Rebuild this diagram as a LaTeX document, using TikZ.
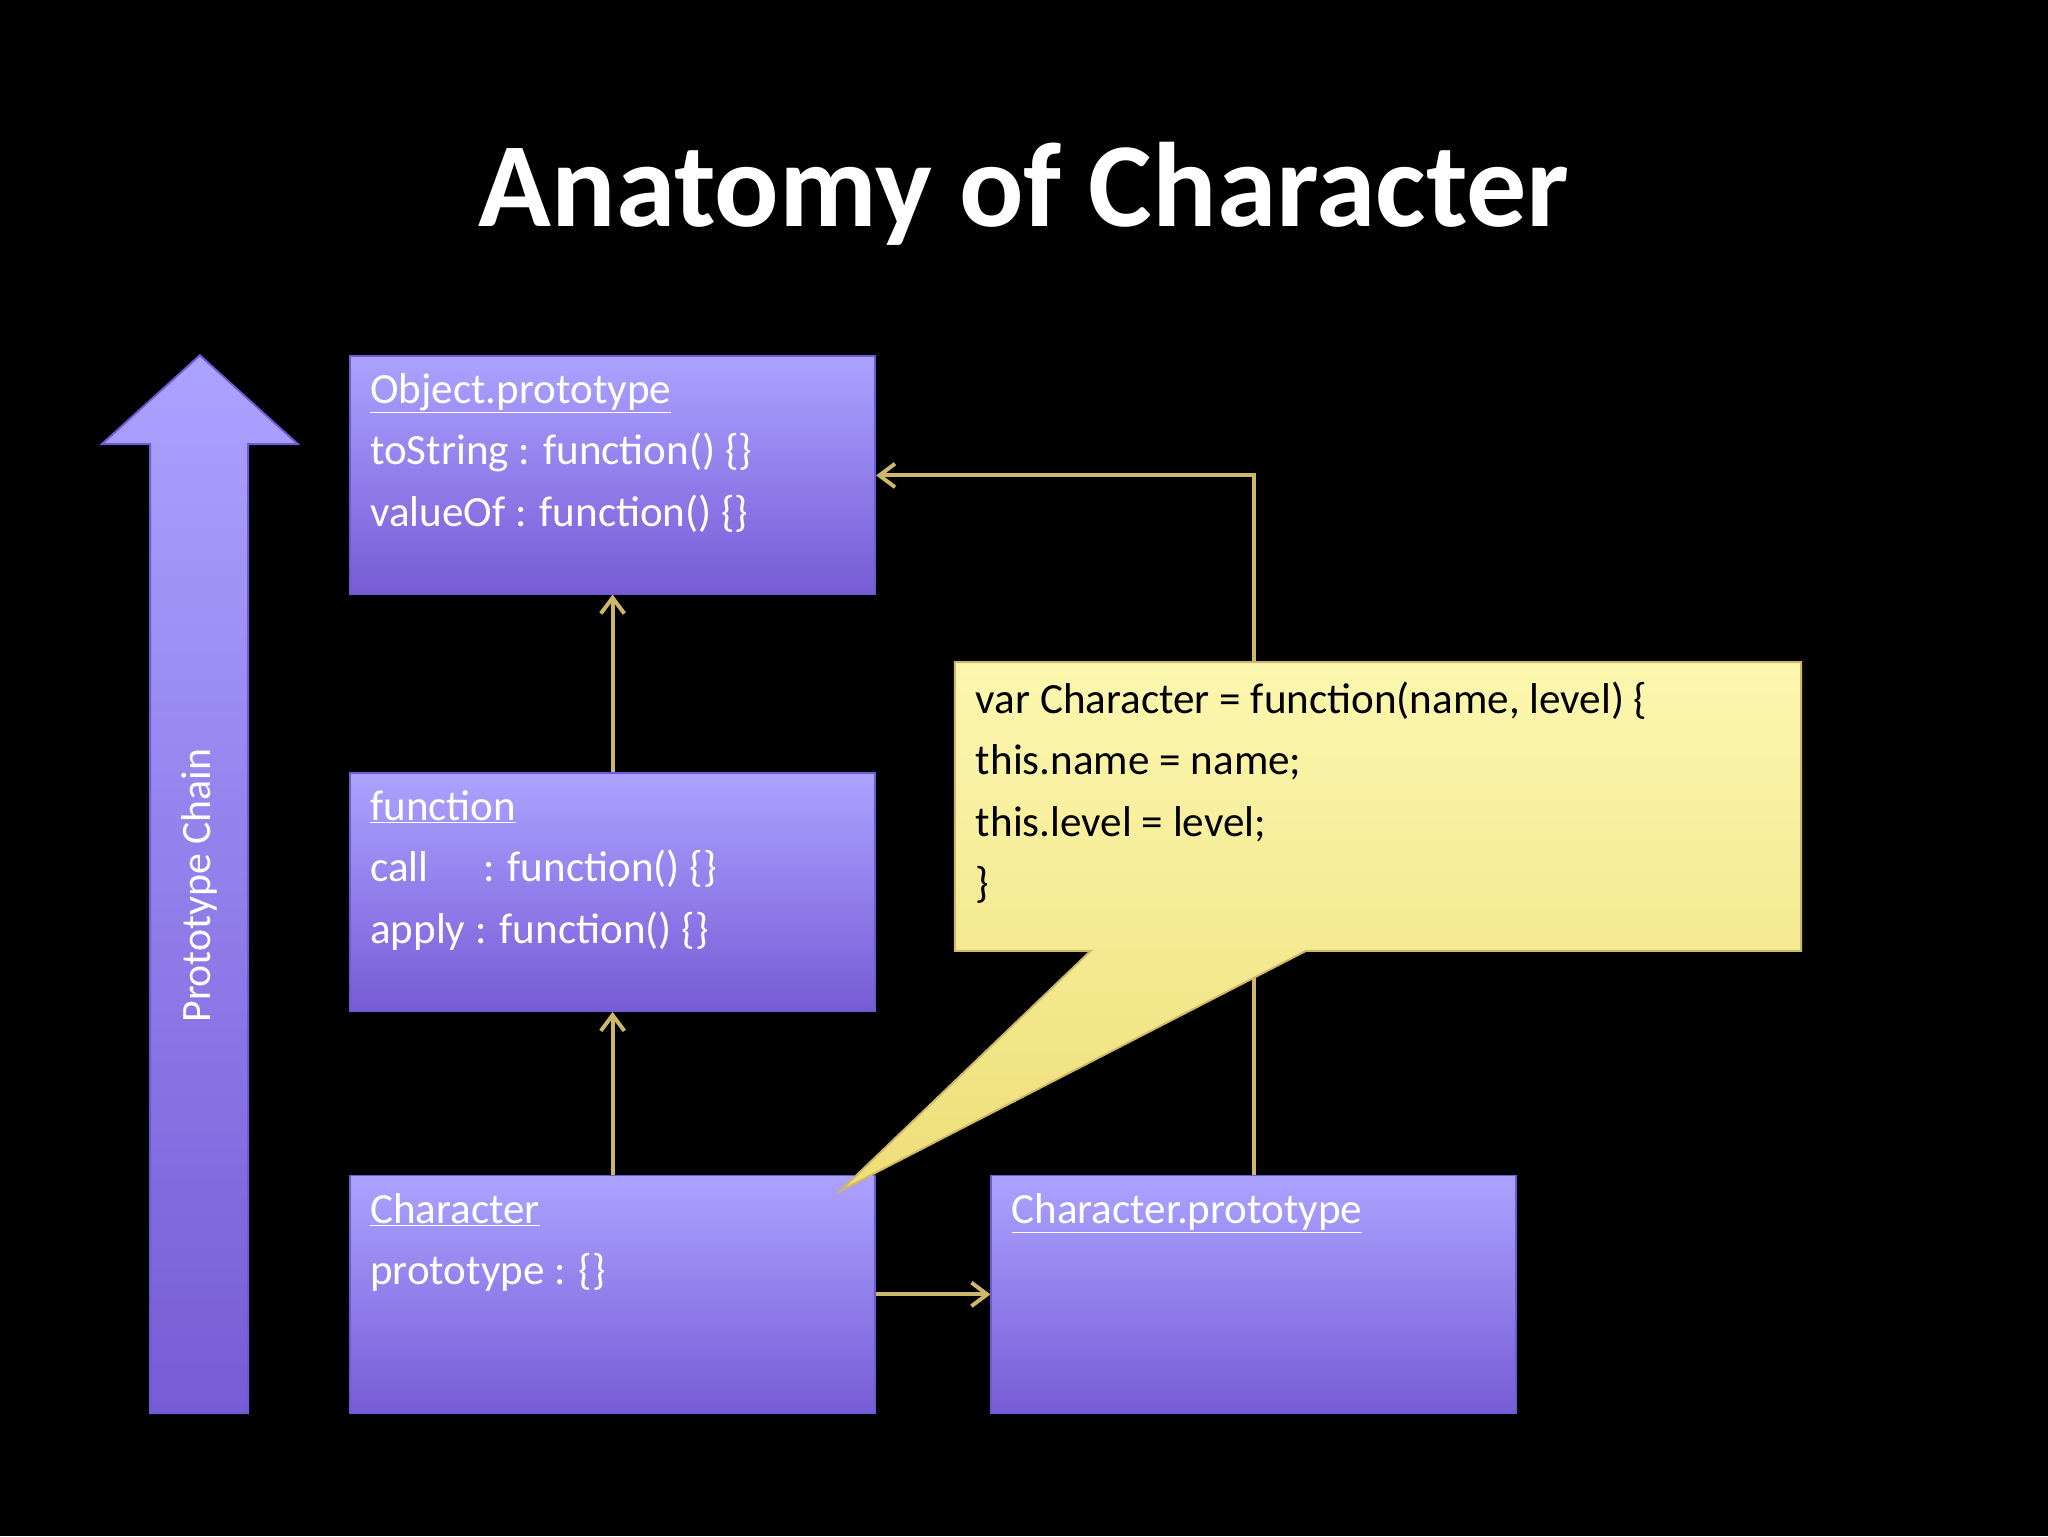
\documentclass[tikz,border=0pt]{standalone}
\usepackage{fontspec}
\setmainfont{Carlito}
\usetikzlibrary{positioning, arrows.meta}
\definecolor{boxtop}{RGB}{172,162,255}
\definecolor{boxbot}{RGB}{118,92,214}
\definecolor{boxline}{RGB}{110,90,210}
\definecolor{linkcol}{RGB}{204,184,104}
\definecolor{notetop}{RGB}{252,247,175}
\definecolor{notebot}{RGB}{238,222,120}
\tikzset{
  objbox/.style={rectangle, draw=boxline, line width=1.5pt, top color=boxtop, bottom color=boxbot,
    minimum width=402pt, minimum height=182pt, inner sep=0pt},
  objtext/.style={anchor=north west, align=left, text=white, inner sep=0pt,
    font=\fontsize{33}{47}\selectfont},
  link/.style={draw=linkcol, line width=3pt, -{Straight Barb[length=12pt,width=18pt]}}
}
\begin{document}
\begin{tikzpicture}[x=1pt,y=1pt]
	\fill[black] (0,0) rectangle (1568,1176);
	
	% Title
	\node[text=white, font=\fontsize{92}{100}\selectfont\bfseries] (title) at (784,1028) {Anatomy of Character};
	
	% Prototype chain arrow
	\shade[top color=boxtop, bottom color=boxbot, draw=boxline, line width=1.5pt]
		(115,94) -- (115,836) -- (78,836) -- (153,904) -- (228,836) -- (190,836) -- (190,94) -- cycle;
	\node[rotate=90, text=white, font=\fontsize{32}{36}\selectfont] (chain) at (153,498) {Prototype Chain};
	
	% Boxes
	\node[objbox] (objproto) at (469,812.5) {};
	\node[objbox] (func) at (469,493) {};
	\node[objbox] (char) at (469,185) {};
	\node[objbox] (charproto) at (960,185) {};
	
	\node[objtext] (objtxt) at ([xshift=16pt,yshift=-14pt]objproto.north west)
		{\underline{Object.prototype}\\toString : function() \{\}\\valueOf : function() \{\}};
	\node[objtext] (functxt) at ([xshift=16pt,yshift=-14pt]func.north west)
		{\underline{function}\\call\hspace{42pt}: function() \{\}\\apply : function() \{\}};
	\node[objtext] (chartxt) at ([xshift=16pt,yshift=-14pt]char.north west)
		{\underline{Character}\\prototype : \{\}};
	\node[objtext] (cptxt) at ([xshift=16pt,yshift=-14pt]charproto.north west)
		{\underline{Character.prototype}};
	
	% Links
	\coordinate (bend) at (charproto.north |- 0,812);
	\draw[link] (char.north) -- (func.south);
	\draw[link] (func.north) -- (objproto.south);
	\draw[link] (char.east) -- (charproto.west);
	\draw[link] (charproto.north) -- (bend) -- (objproto.east |- bend);
	
	% Callout
	\shade[top color=notetop, bottom color=notebot, draw=linkcol, line width=1.5pt]
		(731,669) -- (1379,669) -- (1379,448) -- (1000,448) -- (643,264) -- (835,448) -- (731,448) -- cycle;
	\node[objtext, text=black] (code) at (747,654)
		{var Character = function(name, level) \{\\this.name = name;\\this.level = level;\\\}};
	
\end{tikzpicture}
\end{document}
